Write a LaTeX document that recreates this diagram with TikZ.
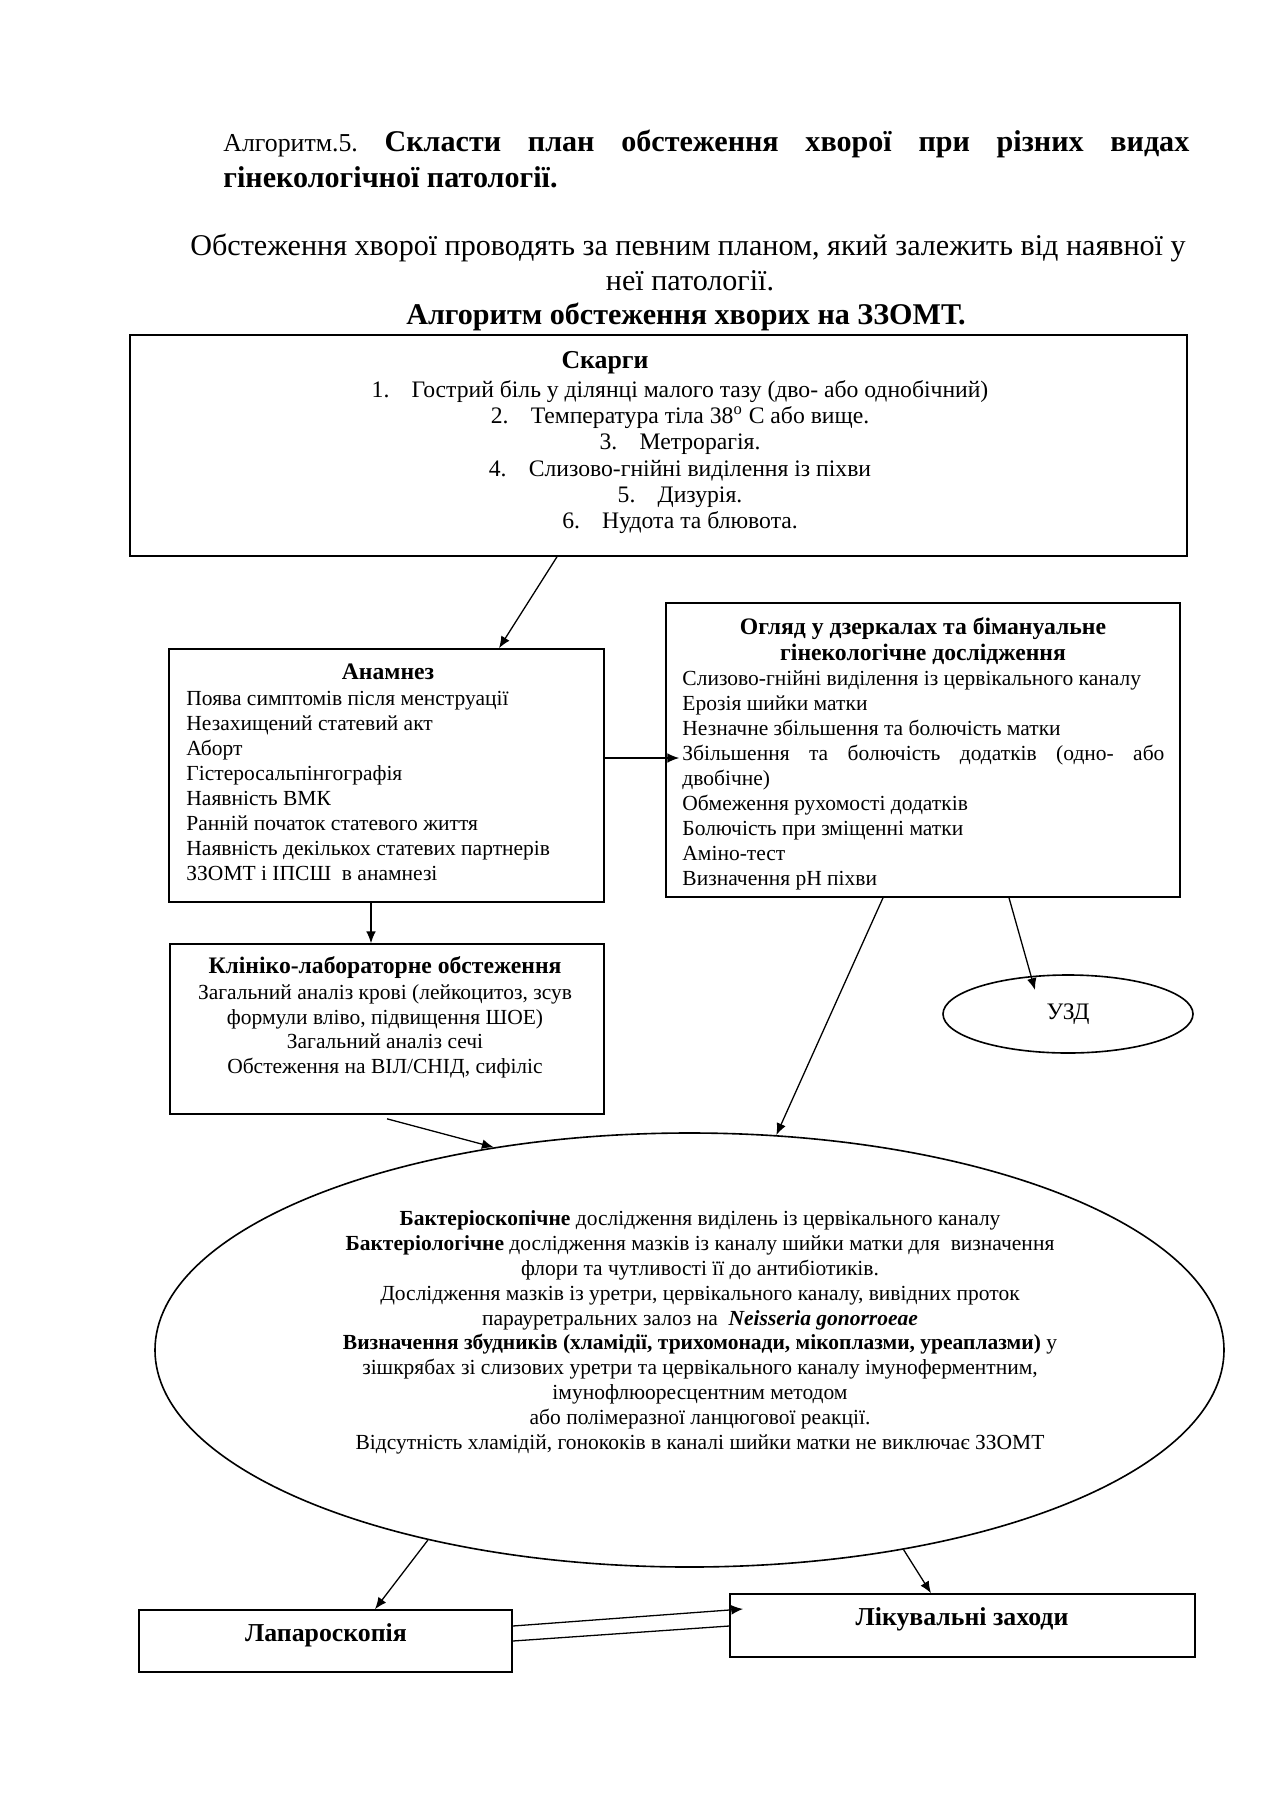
\documentclass[tikz,border=0pt]{standalone}
\usepackage{fontspec}
\setmainfont{Liberation Serif}
\usetikzlibrary{arrows.meta, shapes.geometric, calc}
\newdimen\pxlen \pxlen=0.46506pt
\tikzset{
    frame/.style={draw, rectangle, line width=0.75pt, inner sep=0pt},
    oval/.style={draw, ellipse, line width=0.75pt, inner sep=0pt},
    arr/.style={-{Latex[length=5.5pt,width=4.5pt]}, line width=0.6pt},
    link/.style={line width=0.6pt},
    big/.style={font=\fontsize{14}{16}\selectfont, inner sep=0pt, anchor=mid},
    head/.style={font=\fontsize{11}{13}\selectfont\bfseries, inner sep=0pt, anchor=mid},
    body/.style={font=\fontsize{10}{12}\selectfont, inner sep=0pt},
    item/.style={font=\fontsize{11}{13}\selectfont, inner sep=0pt, anchor=mid},
    final/.style={font=\fontsize{12}{14}\selectfont\bfseries, inner sep=0pt, anchor=mid} }

\begin{document}
\begin{tikzpicture}[x=0.46506pt, y=-0.46506pt]
			\useasboundingbox (0,0) rectangle (1280,1811);
			% title
			\node[big, anchor=mid west] (title) at (223,147) {\frenchspacing\makebox[966\pxlen][s]{{\fontsize{12}{14}\selectfont Алгоритм.5.} \textbf{Скласти план обстеження хворої при різних видах}}};
			\node[big, anchor=mid west] (title2) at (223,183) {\textbf{гінекологічної патології.}};
			\node[big] (intro) at (688,251) {Обстеження хворої проводять за певним планом, який залежить від наявної у};
			\node[big] (intro2) at (690,286) {неї патології.};
			\node[big] (heading) at (686,320) {\textbf{Алгоритм обстеження хворих на ЗЗОМТ.}};
			% boxes
			\node[frame, minimum width=1057*\pxlen, minimum height=221*\pxlen] (skarhy) at (658.5,445.5) {};
			\node[frame, minimum width=435*\pxlen, minimum height=253*\pxlen] (anamnez) at (386.5,775.5) {};
			\node[frame, minimum width=514*\pxlen, minimum height=294*\pxlen] (ohliad) at (923,750) {};
			\node[frame, minimum width=434*\pxlen, minimum height=170*\pxlen] (klin) at (387,1029) {};
			\node[oval, minimum width=250*\pxlen, minimum height=78*\pxlen] (uzd) at (1068,1014) {};
			\node[oval, minimum width=1069*\pxlen, minimum height=434*\pxlen] (bakt) at (689.5,1350) {};
			\node[frame, minimum width=373*\pxlen, minimum height=62*\pxlen] (lapar) at (325.5,1641) {};
			\node[frame, minimum width=465*\pxlen, minimum height=63*\pxlen] (likuv) at (962.5,1625.5) {};
			% ---- texts
			\node[final] (skarhyt) at (605,364) {Скарги};
			\foreach \txt [count=\i] in {Гострий біль у ділянці малого тазу (дво- або однобічний),
				Температура тіла 38\textsuperscript{о} С або вище., Метрорагія.,
				Слизово-гнійні виділення із піхви, Дизурія., Нудота та блювота.}
				\node[item] (sk\i) at (680,{366+26.3*\i}) {\makebox[40\pxlen][l]{\i.}\txt};
			\node[head] (anamnezt) at (388,675) {Анамнез};
			\foreach \txt [count=\i from 0] in {Поява симптомів після менструації, Незахищений статевий акт,
				Аборт, Гістеросальпінгографія, Наявність ВМК, Ранній початок статевого життя,
				Наявність декількох статевих партнерів, ЗЗОМТ і ІПСШ \ в анамнезі}
				\node[body, anchor=mid west] (an\i) at (186,{701+25*\i}) {\txt};
			\node[head] (ohliadt) at (923,630) {Огляд у дзеркалах та бімануальне};
			\node[head] (ohliadt2) at (923,656) {гінекологічне дослідження};
			\foreach \txt [count=\i from 0] in {Слизово-гнійні виділення із цервікального каналу,
				Ерозія шийки матки, Незначне збільшення та болючість матки,
				\makebox[482\pxlen][s]{Збільшення та болючість додатків (одно- або},
				двобічне), Обмеження рухомості додатків, Болючість при зміщенні матки,
				Аміно-тест, Визначення рН піхви}
				\node[body, anchor=mid west] (oh\i) at (682,{681+25*\i}) {\txt};
			\node[head] (klint) at (385,969) {Клініко-лабораторне обстеження};
			\foreach \txt [count=\i from 0] in {{Загальний аналіз крові (лейкоцитоз, зсув},
				{формули вліво, підвищення ШОЕ)}, Загальний аналіз сечі, {Обстеження на ВІЛ/СНІД, сифіліс}}
				\node[body, anchor=mid] (kl\i) at (385,{995+24.4*\i}) {\txt};
			\node[item] (uzdt) at (1068,1015) {УЗД};
			\foreach \txt [count=\i from 0] in {\textbf{Бактеріоскопічне} дослідження виділень із цервікального каналу,
				\textbf{Бактеріологічне} дослідження мазків із каналу шийки матки для \ визначення,
				флори та чутливості її до антибіотиків.,
				{Дослідження мазків із уретри, цервікального каналу, вивідних проток},
				парауретральних залоз на \ \textbf{\textit{Neisseria gonorroeae}},
				{\textbf{Визначення збудників (хламідії, трихомонади, мікоплазми, уреаплазми)} у},
				{зішкрябах зі слизових уретри та цервікального каналу імуноферментним,},
				імунофлюоресцентним методом, або полімеразної ланцюгової реакції.,
				{Відсутність хламідій, гонококів в каналі шийки матки не виключає ЗЗОМТ}}
				\node[body, anchor=mid] (bk\i) at (700,{1221+24.8*\i}) {\txt};
			\node[final] (lapart) at (326,1637) {Лапароскопія};
			\node[final] (likuvt) at (962,1621) {Лікувальні заходи};
			% ---- connectors
			\draw[arr] (skarhy.south -| 557,0) -- (anamnez.north -| 499,0);
			\draw[arr, shorten >=-6.5pt] (anamnez.east |- 0,758) -- (ohliad.west |- 0,758);
			\draw[arr] (anamnez.south -| 371,0) -- (klin.north -| 371,0);
			\draw[arr] (ohliad.south -| 883,0) -- (bakt.68);
			\draw[arr] (ohliad.south -| 1009,0) -- ($(uzd.center)+(-33,-24)$);
			\draw[arr] ($(klin.south -| 387,0)+(0,4)$) -- (bakt.134);
			\draw[arr] (bakt.216) -- (lapar.north -| 375,0);
			\draw[arr] (bakt.317) -- (likuv.north -| 931,0);
			\draw[arr, shorten >=-6.5pt] (lapar.east |- 0,1626) -- (likuv.west |- 0,1610);
			\draw[link] (lapar.east |- 0,1641) -- (likuv.west |- 0,1626);
		\end{tikzpicture}
\end{document}
